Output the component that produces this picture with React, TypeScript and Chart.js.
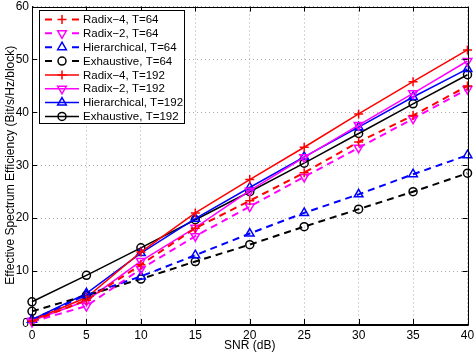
import React, { useEffect, useRef } from "react";
import { Chart, registerables } from "chart.js";
import { drawPoint } from "chart.js/helpers";

Chart.register(...registerables);

const snr = [0, 5, 10, 15, 20, 25, 30, 35, 40];
const radix4T64 = [0.5, 4.5, 11.2, 18.1, 23.3, 28.6, 34.4, 39.4, 45.0];
const radix2T64 = [0.4, 3.4, 10.4, 16.6, 22.2, 27.8, 33.3, 38.8, 44.4];
const hierT64 = [0.8, 5.5, 9.0, 13.0, 17.1, 21.0, 24.5, 28.3, 31.9];
const exhT64 = [2.4, 5.4, 8.5, 11.8, 15.0, 18.4, 21.7, 25.0, 28.5];
const radix4T192 = [0.7, 5.0, 13.6, 21.0, 27.3, 33.4, 39.7, 45.8, 51.8];
const radix2T192 = [0.6, 4.4, 11.9, 18.2, 25.2, 31.5, 37.6, 43.6, 49.7];
const hierT192 = [0.8, 5.8, 13.4, 19.9, 25.8, 31.6, 37.2, 42.9, 48.2];
const exhT192 = [4.2, 9.2, 14.4, 19.7, 25.0, 30.4, 36.0, 41.6, 47.1];

const labels = [
  "Radix\u22124, T=64",
  "Radix\u22122, T=64",
  "Hierarchical, T=64",
  "Exhaustive, T=64",
  "Radix\u22124, T=192",
  "Radix\u22122, T=192",
  "Hierarchical, T=192",
  "Exhaustive, T=192",
];

const xTicks = [0, 5, 10, 15, 20, 25, 30, 35, 40];
const yTicks = [0, 10, 20, 30, 40, 50, 60];

const FONT = "'Liberation Sans', Arial, Helvetica, sans-serif";

type Style = { color: string; dashed: boolean; point: string; rotation: number; radius: number };

const styles: Style[] = [
  { color: "#ff0000", dashed: true, point: "cross", rotation: 0, radius: 4.5 },
  { color: "#ff00ff", dashed: true, point: "triangle", rotation: 180, radius: 5 },
  { color: "#0000ff", dashed: true, point: "triangle", rotation: 0, radius: 5 },
  { color: "#000000", dashed: true, point: "circle", rotation: 0, radius: 4 },
  { color: "#ff0000", dashed: false, point: "cross", rotation: 0, radius: 4.5 },
  { color: "#ff00ff", dashed: false, point: "triangle", rotation: 180, radius: 5 },
  { color: "#0000ff", dashed: false, point: "triangle", rotation: 0, radius: 5 },
  { color: "#000000", dashed: false, point: "circle", rotation: 0, radius: 4 },
];

const series = [radix4T64, radix2T64, hierT64, exhT64, radix4T192, radix2T192, hierT192, exhT192];

const framePlugin = {
  id: "frameLegend",
  afterDraw(chart: any) {
    const { ctx, chartArea } = chart;
    const { left, right, top, bottom } = chartArea;
    const xs = chart.scales.x;
    const ys = chart.scales.y;
    ctx.save();
    ctx.strokeStyle = "#000";
    ctx.lineWidth = 1;
    ctx.setLineDash([]);
    ctx.beginPath();
    ctx.rect(Math.round(left) + 0.5, Math.round(top) + 0.5, Math.round(right - left), Math.round(bottom - top));
    ctx.stroke();
    const tl = 5;
    ctx.beginPath();
    xTicks.forEach((t) => {
      const px = Math.round(xs.getPixelForValue(t)) + 0.5;
      ctx.moveTo(px, bottom);
      ctx.lineTo(px, bottom - tl);
      ctx.moveTo(px, top);
      ctx.lineTo(px, top + tl);
    });
    yTicks.forEach((t) => {
      const py = Math.round(ys.getPixelForValue(t)) + 0.5;
      ctx.moveTo(left, py);
      ctx.lineTo(left + tl, py);
      ctx.moveTo(right, py);
      ctx.lineTo(right - tl, py);
    });
    ctx.stroke();

    // legend
    const bx = 39.5, by = 10.5, bw = 145, bh = 113;
    ctx.fillStyle = "#fff";
    ctx.fillRect(bx, by, bw, bh);
    ctx.strokeStyle = "#000";
    ctx.lineWidth = 1;
    ctx.strokeRect(bx, by, bw, bh);
    ctx.font = "11.5px " + FONT;
    ctx.textBaseline = "middle";
    ctx.textAlign = "left";
    labels.forEach((lab, i) => {
      const st = styles[i];
      const y = 19.5 + i * 13.85;
      ctx.strokeStyle = st.color;
      ctx.lineWidth = st.dashed ? 2 : 1.5;
      ctx.setLineDash([]);
      ctx.beginPath();
      if (st.dashed) {
        ctx.moveTo(45, y);
        ctx.lineTo(52, y);
        ctx.moveTo(72, y);
        ctx.lineTo(79, y);
      } else {
        ctx.moveTo(45, y);
        ctx.lineTo(79, y);
      }
      ctx.stroke();
      ctx.fillStyle = "rgba(0,0,0,0)";
      ctx.lineWidth = 1.5;
      drawPoint(ctx, { pointStyle: st.point as any, rotation: st.rotation, radius: st.radius, borderWidth: 1.5 }, 62, y);
      ctx.fillStyle = "#000";
      ctx.fillText(lab, 83, y + 0.5);
    });
    ctx.restore();
  },
};

export default function App() {
  const ref = useRef<HTMLCanvasElement | null>(null);
  useEffect(() => {
    if (!ref.current) return;
    Chart.defaults.font.family = FONT;
    Chart.defaults.color = "#000";
    const datasets = series.map((data, i) => {
      const st = styles[i];
      return {
        label: labels[i],
        data: data.map((v, j) => ({ x: snr[j], y: v })),
        borderColor: st.color,
        backgroundColor: "rgba(0,0,0,0)",
        borderWidth: st.dashed ? 2 : 1.5,
        borderDash: st.dashed ? [7, 5] : [],
        pointStyle: st.point,
        pointRotation: st.rotation,
        pointRadius: st.radius,
        pointBorderWidth: 1.5,
        pointBorderColor: st.color,
        pointBackgroundColor: "rgba(0,0,0,0)",
        tension: 0,
        clip: false as any,
      };
    });
    const chart = new Chart(ref.current, {
      type: "line",
      data: { datasets: datasets as any },
      options: {
        animation: false,
        responsive: false,
        maintainAspectRatio: false,
        layout: { padding: { top: 6, right: 6, left: 0, bottom: 0 } },
        plugins: { legend: { display: false }, tooltip: { enabled: false } },
        scales: {
          x: {
            type: "linear",
            min: 0,
            max: 40,
            afterBuildTicks: (s: any) => {
              s.ticks = xTicks.map((v) => ({ value: v }));
            },
            afterFit: (s: any) => {
              s.height = 31;
              s.paddingLeft = 0;
              s.paddingRight = 0;
            },
            ticks: { font: { size: 12 }, color: "#000", padding: 4, maxRotation: 0 },
            grid: { color: "#aaaaaa", lineWidth: 1, drawTicks: false },
            border: { display: true, color: "#000", dash: [1, 3] },
            title: { display: true, text: "SNR (dB)", font: { size: 12 }, color: "#000", padding: { top: 0, bottom: 2 } },
          },
          y: {
            type: "linear",
            min: 0,
            max: 60,
            afterBuildTicks: (s: any) => {
              s.ticks = yTicks.map((v) => ({ value: v }));
            },
            afterFit: (s: any) => {
              s.width = 32;
              s.paddingTop = 0;
              s.paddingBottom = 0;
            },
            ticks: { font: { size: 12 }, color: "#000", padding: 3 },
            grid: { color: "#aaaaaa", lineWidth: 1, drawTicks: false },
            border: { display: true, color: "#000", dash: [1, 3] },
            title: {
              display: true,
              text: "Effective Spectrum Efficiency (Bit/s/Hz/block)",
              font: { size: 12 },
              color: "#000",
              padding: { top: 3, bottom: 0 },
            },
          },
        },
      },
      plugins: [framePlugin],
    });
    return () => chart.destroy();
  }, []);
  return (
    <div style={{ position: "fixed", left: 0, top: 0, width: 474, height: 355, background: "#fff" }}>
      <canvas ref={ref} width={474} height={355} style={{ display: "block" }} />
    </div>
  );
}
